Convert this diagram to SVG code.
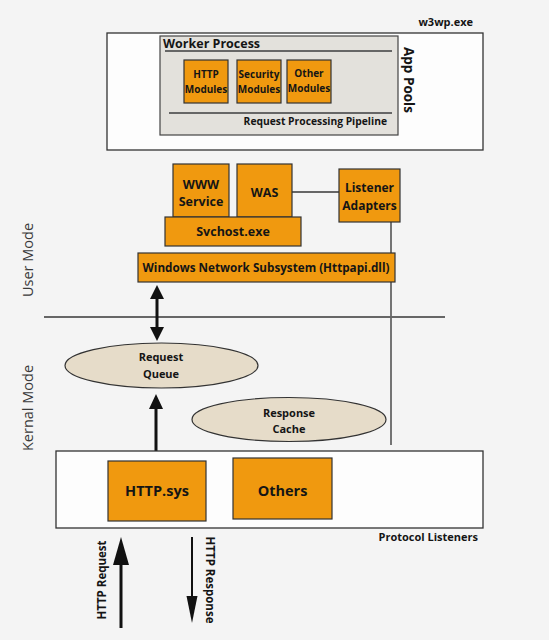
<svg xmlns="http://www.w3.org/2000/svg" width="549" height="640" viewBox="0 0 549 640">
<style>
text{font-family:"Open Sans","Noto Sans","Liberation Sans",sans-serif;font-weight:bold;fill:#151515;}
.org{fill:#f0990f;stroke:#333;stroke-width:1.2;}
.ell{fill:#e6dcc9;stroke:#333;stroke-width:1.2;}
.box{fill:#fdfdfd;stroke:#333;stroke-width:1.3;}
.mode{font-weight:normal;font-size:14.5px;fill:#3a3a3a;}
.ln{stroke:#666;stroke-width:1.8;fill:none;}
.c{text-anchor:middle;}
</style>
<rect width="549" height="640" fill="#f4f4f4"/>
<g id="app-pools">
<text x="473" y="26" font-size="11" text-anchor="end">w3wp.exe</text>
<rect class="box" x="107" y="33" width="376" height="117"/>
<text font-size="13.5" transform="translate(404,47) rotate(90)">App Pools</text>
</g>
<g id="worker-process">
<rect x="160" y="36" width="238" height="99" fill="#e3e1dc" stroke="#444" stroke-width="1.2"/>
<text x="163" y="48" font-size="12.5">Worker Process</text>
<line x1="165" y1="51" x2="392" y2="51" stroke="#666" stroke-width="1.8"/>
<line x1="169" y1="113" x2="392" y2="113" stroke="#666" stroke-width="1.8"/>
<text x="387" y="125" font-size="10.3" text-anchor="end">Request Processing Pipeline</text>
</g>
<g id="http-modules">
<rect class="org" x="184" y="60" width="44" height="43"/>
<text class="c" x="206" y="78" font-size="10">HTTP</text>
<text class="c" x="206" y="93" font-size="10">Modules</text>
</g>
<g id="security-modules">
<rect class="org" x="237" y="60" width="44" height="43"/>
<text class="c" x="259" y="78" font-size="10">Security</text>
<text class="c" x="259" y="93" font-size="10">Modules</text>
</g>
<g id="other-modules">
<rect class="org" x="287" y="60" width="44" height="43"/>
<text class="c" x="309" y="77" font-size="10">Other</text>
<text class="c" x="309" y="92" font-size="10">Modules</text>
</g>
<g id="connectors">
<line class="ln" x1="292" y1="192" x2="339" y2="192" stroke-width="1.4"/>
<line class="ln" x1="391" y1="222" x2="391" y2="445" stroke-width="1.6"/>
<line class="ln" x1="44" y1="317" x2="445" y2="317"/>
<line x1="157" y1="298" x2="157" y2="327" stroke="#111" stroke-width="3"/>
<polygon points="157,285 150,299 164,299" fill="#111"/>
<polygon points="157,341 150,327 164,327" fill="#111"/>
<line x1="156" y1="452" x2="156" y2="406" stroke="#111" stroke-width="3"/>
<polygon points="156,394 149,409 163,409" fill="#111"/>
<line x1="121" y1="628" x2="121" y2="560" stroke="#111" stroke-width="3"/>
<polygon points="121,537 113,565 129,565" fill="#111"/>
<line x1="192" y1="537" x2="192" y2="600" stroke="#111" stroke-width="2"/>
<polygon points="192,623 186.5,596 197.5,596" fill="#111"/>
</g>
<g id="www-service">
<rect class="org" x="173" y="164" width="56" height="53"/>
<text class="c" x="201" y="189" font-size="12.5">WWW</text>
<text class="c" x="201" y="206" font-size="12.5">Service</text>
</g>
<g id="was">
<rect class="org" x="237" y="164" width="55" height="53"/>
<text class="c" x="264.5" y="197" font-size="12.5">WAS</text>
</g>
<g id="svchost">
<rect class="org" x="165" y="217" width="136" height="29"/>
<text class="c" x="233" y="236" font-size="12.5">Svchost.exe</text>
</g>
<g id="listener-adapters">
<rect class="org" x="339" y="169" width="61" height="53"/>
<text class="c" x="369.5" y="192" font-size="12">Listener</text>
<text class="c" x="369.5" y="210" font-size="12">Adapters</text>
</g>
<g id="windows-network-subsystem">
<rect class="org" x="138" y="253" width="257" height="29"/>
<text class="c" x="266" y="272" font-size="11.7">Windows Network Subsystem (Httpapi.dll)</text>
</g>
<g id="modes">
<text class="mode c" transform="translate(33,260) rotate(-90)">User Mode</text>
<text class="mode c" transform="translate(33,408) rotate(-90)">Kernal Mode</text>
</g>
<g id="request-queue">
<ellipse class="ell" cx="161.5" cy="365.5" rx="96.5" ry="22.5"/>
<text class="c" x="161" y="361" font-size="11">Request</text>
<text class="c" x="161" y="378" font-size="11">Queue</text>
</g>
<g id="response-cache">
<ellipse class="ell" cx="289" cy="419.5" rx="97" ry="22"/>
<text class="c" x="289" y="417" font-size="11">Response</text>
<text class="c" x="289" y="433" font-size="11">Cache</text>
</g>
<g id="protocol-listeners">
<rect class="box" x="56" y="451" width="427" height="77"/>
<text x="478" y="541" font-size="11" text-anchor="end">Protocol Listeners</text>
</g>
<g id="http-sys">
<rect class="org" x="108" y="461" width="98" height="60"/>
<text class="c" x="157" y="496" font-size="14.5">HTTP.sys</text>
</g>
<g id="others">
<rect class="org" x="233" y="458" width="99" height="61"/>
<text class="c" x="282.5" y="496" font-size="14.5">Others</text>
</g>
<g id="http-labels">
<text class="c" font-size="11.5" transform="translate(106,580) rotate(-90)">HTTP Request</text>
<text class="c" font-size="11.5" transform="translate(206,580) rotate(90)">HTTP Response</text>
</g>
</svg>
